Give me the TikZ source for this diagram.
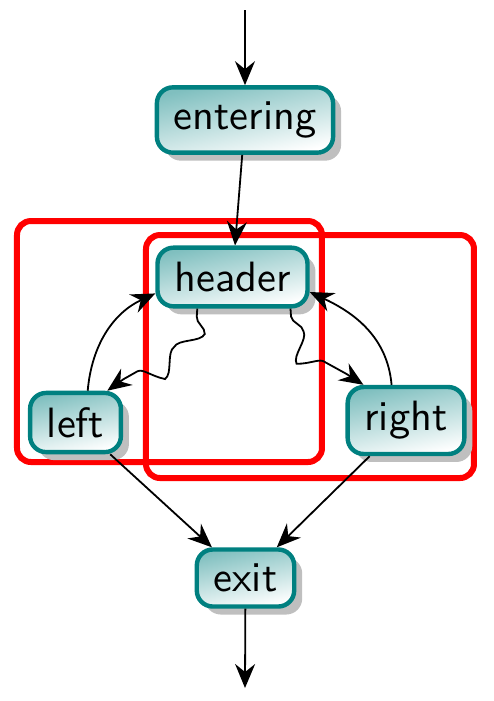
\documentclass[tikz,border=0pt]{standalone}
\usetikzlibrary{arrows.meta,shadows,decorations.pathmorphing}
\begin{document}
\begin{tikzpicture}[x=0.25pt,y=-0.25pt,
  state/.style={rectangle, rounded corners=4pt, draw=teal, line width=1.1pt,
    top color=teal!50, bottom color=white, shading angle=12,
    drop shadow={shadow xshift=2pt, shadow yshift=-2pt, fill=black!25, opacity=1},
    inner xsep=4.2pt, inner ysep=3.6pt,
    font=\sffamily\fontsize{10.6}{12}\selectfont},
  conn/.style={line width=0.45pt, -{Stealth[length=6pt,width=5pt,inset=2pt]}},
  wavy/.style={conn, decorate, decoration={snake, amplitude=2.6pt, segment length=13pt, pre length=2pt, post length=5pt}},
  group/.style={draw=red, line width=1.5pt, rounded corners=3.5pt}]
\useasboundingbox (0,0) rectangle (494,701);
\draw[group] (17,221) rectangle (322,462);
\draw[group] (146,235) rectangle (474,478);
\node[state] (entering) at (245,120) {entering};
\node[state] (header) at (232.5,277) {header};
\node[state] (left) at (75.5,422.5) {left};
\node[state] (right) at (406,420.5) {right};
\node[state] (exit) at (245.5,578) {exit};
\coordinate (in) at (245,10);
\coordinate (out) at (245,688);
\draw[conn] (in) -- (entering);
\draw[conn] (entering) -- (header);
\draw[wavy] ([xshift=-8.8pt]header.south) to[out=-90,in=40] (left.45);
\draw[wavy] ([xshift=14.5pt]header.south) to[out=-90,in=145] (right.140);
\draw[conn] (left.69) to[out=85,in=205] (header.192);
\draw[conn] (right.112) to[out=95,in=-25] (header.-11);
\draw[conn] (left) -- (exit);
\draw[conn] (right) -- (exit);
\draw[conn] (exit) -- (out);
\end{tikzpicture}
\end{document}
